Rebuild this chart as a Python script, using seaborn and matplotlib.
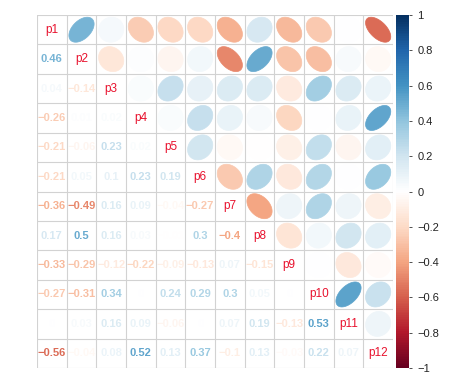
import numpy as np
import pandas as pd
import seaborn as sns
import matplotlib
matplotlib.use("Agg")
import matplotlib.pyplot as plt
from matplotlib.colors import LinearSegmentedColormap
from matplotlib.patches import Polygon

labels = [f"p{i}" for i in range(1, 13)]
# lower-triangle correlations, row by row (row pK holds its values with p1..p(K-1))
row_p2 = [0.46]
row_p3 = [0.04, -0.14]
row_p4 = [-0.26, 0.01, 0.02]
row_p5 = [-0.21, -0.06, 0.23, 0.02]
row_p6 = [-0.21, 0.05, 0.10, 0.23, 0.19]
row_p7 = [-0.36, -0.49, 0.16, 0.09, -0.04, -0.27]
row_p8 = [0.17, 0.50, 0.16, 0.03, -0.01, 0.30, -0.40]
row_p9 = [-0.33, -0.29, -0.12, -0.22, -0.09, -0.13, 0.07, -0.15]
row_p10 = [-0.27, -0.31, 0.34, 0.00, 0.24, 0.29, 0.30, 0.05, 0.00]
row_p11 = [0.00, 0.03, 0.16, 0.09, -0.06, 0.00, 0.07, 0.19, -0.13, 0.53]
row_p12 = [-0.56, -0.04, 0.08, 0.52, 0.13, 0.37, -0.10, 0.13, -0.03, 0.22, 0.07]
lower_rows = [row_p2, row_p3, row_p4, row_p5, row_p6, row_p7, row_p8,
              row_p9, row_p10, row_p11, row_p12]
cbar_ticks = [-1, -0.8, -0.6, -0.4, -0.2, 0, 0.2, 0.4, 0.6, 0.8, 1]

n = len(labels)
M = np.eye(n)
for i, row in enumerate(lower_rows, start=1):
    for j, v in enumerate(row):
        M[i, j] = v
        M[j, i] = v
df = pd.DataFrame(M, index=labels, columns=labels)

cmap = LinearSegmentedColormap.from_list(
    "corrRdBu",
    ["#67001F", "#B2182B", "#D6604D", "#F4A582", "#FDDBC7", "#FFFFFF",
     "#D1E5F0", "#92C5DE", "#4393C3", "#2166AC", "#053061"], N=200)

sns.set_style("white")
plt.rcParams["font.family"] = ["Liberation Sans", "DejaVu Sans"]

fig = plt.figure(figsize=(4.74, 3.74), dpi=100)
ax = fig.add_axes([37 / 474, 1 - 368 / 374, 356 / 474, 353 / 374])
cax = fig.add_axes([396 / 474, 1 - 368 / 374, 13 / 474, 353 / 374])

sns.heatmap(df, mask=np.ones_like(M, dtype=bool), cmap=cmap, vmin=-1, vmax=1,
            ax=ax, cbar_ax=cax, xticklabels=False, yticklabels=False,
            cbar_kws={"ticks": cbar_ticks})

# grid
for k in range(n + 1):
    ax.axhline(k, color="#d2d2d2", lw=0.8, zorder=1)
    ax.axvline(k, color="#d2d2d2", lw=0.8, zorder=1)
for s in ax.spines.values():
    s.set_visible(False)


def fmt(v):
    s = f"{abs(v):.2f}".rstrip("0").rstrip(".")
    if s in ("", "0"):
        return "0"
    return ("\u2212" + s) if v < 0 else s


t = np.linspace(0, 2 * np.pi, 99)
norm = plt.Normalize(-1, 1)
for i in range(n):
    for j in range(n):
        v = M[i, j]
        col = cmap(norm(v))
        if i == j:
            ax.text(j + 0.5, i + 0.5, labels[i], color="#E8112D", ha="center",
                    va="center", fontsize=8.5, zorder=3)
        elif i > j:
            ax.text(j + 0.5, i + 0.5, fmt(v), color=col, ha="center",
                    va="center", fontsize=8, fontweight="bold", zorder=3)
        else:
            d = np.arccos(v)
            ex = 0.85 * np.cos(t + d / 2) / 2
            ey = 0.85 * np.cos(t - d / 2) / 2
            pts = np.column_stack([j + 0.5 + ex, i + 0.5 - ey])
            ax.add_patch(Polygon(pts, closed=True, facecolor=col,
                                 edgecolor=col, lw=0.5, zorder=2))

ax.set_xlim(0, n)
ax.set_ylim(n, 0)

cb = ax.collections[0].colorbar
cb.outline.set_visible(False)
cax.set_yticks(cbar_ticks)
cax.set_yticklabels([fmt(v) for v in cbar_ticks])
cax.tick_params(axis="y", length=2, width=0.6, color="#333333",
                labelsize=8, labelcolor="#222222", pad=4)

fig.savefig("out.png", dpi=100)
